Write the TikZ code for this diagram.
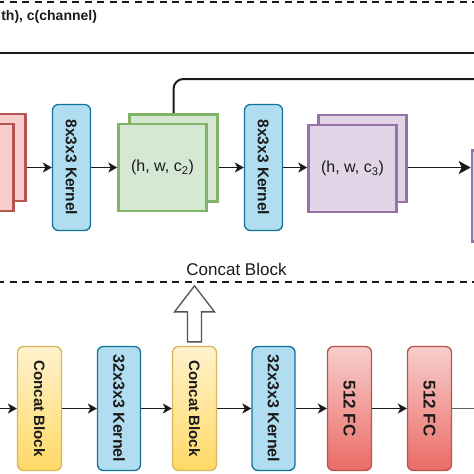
\documentclass[tikz,border=0pt]{standalone}
\usepackage{fontspec}
\setmainfont{Liberation Sans}
\usetikzlibrary{arrows.meta}
\definecolor{redL}{HTML}{F8CECC}
\definecolor{redD}{HTML}{B85450}
\definecolor{redM}{HTML}{EA6B66}
\definecolor{blueL}{HTML}{B1DDF0}
\definecolor{blueD}{HTML}{10739E}
\definecolor{greenL}{HTML}{D5E8D4}
\definecolor{greenD}{HTML}{82B366}
\definecolor{purpL}{HTML}{E1D5E7}
\definecolor{purpD}{HTML}{9673A6}
\definecolor{yelL}{HTML}{FFF2CC}
\definecolor{yelM}{HTML}{FFD966}
\definecolor{yelD}{HTML}{D6B656}
\definecolor{txt}{HTML}{1A1A1A}
\tikzset{
  sq/.style={draw, line width=2.6pt, minimum width=88pt, minimum height=87pt, inner sep=0pt,
    font=\fontsize{16}{19}\selectfont, text=txt},
  kern/.style={draw=blueD, fill=blueL, line width=1.3pt, rounded corners=6pt,
    minimum width=38pt, minimum height=126pt, inner sep=0pt,
    font=\bfseries\fontsize{15.5}{18}\selectfont, text=txt},
  blk/.style={line width=1.3pt, rounded corners=6pt, shading angle=0,
    minimum width=44pt, minimum height=124pt, inner sep=0pt,
    font=\bfseries\fontsize{15}{18}\selectfont, text=txt},
  conc/.style={blk, draw=yelD, top color=yelL, bottom color=yelM},
  fcb/.style={blk, draw=redD, top color=redL, bottom color=redM, font=\bfseries\fontsize{17}{20}\selectfont},
  arr/.style={line width=1.5pt, draw=txt, -{Stealth[length=9pt,width=10pt,inset=2.5pt]}},
  bigarr/.style={line width=1.6pt, draw=txt, -{Stealth[length=12pt,width=13pt,inset=3pt]}},
  plain/.style={line width=1.5pt, draw=txt},
  sep/.style={line width=2pt, draw=txt},
  dsh/.style={line width=2.5pt, draw=txt, dash pattern=on 7pt off 5.5pt},
}
\begin{document}
\begin{tikzpicture}[x=1pt,y=-1pt]
\useasboundingbox (0,0) rectangle (474,474);
\clip (0,0) rectangle (474,474);

% separator lines
\draw[dsh] (-3,2) -- (480,2);
\node[anchor=east, font=\bfseries\fontsize{14}{16}\selectfont, text=txt] (ttl) at (100.5,16.5) {th), c(channel)};
\draw[sep] (-5,53) -- (480,53);

% top row
\node[sq, draw=redD, fill=redL] (r2) at (-18.5,157.5) {};
\node[sq, draw=redD, fill=redL] (r1) at (-30.5,167.5) {(h, w, c\textsubscript{1})};
\node[kern] (k1) at (71.5,167.5) {\rotatebox{-90}{8x3x3 Kernel}};
\node[sq, draw=greenD, fill=greenL] (g2) at (173.5,158) {};
\node[sq, draw=greenD, fill=greenL] (g1) at (162.5,167.5) {(h, w, c\textsubscript{2})};
\node[kern] (k2) at (263.5,167.5) {\rotatebox{-90}{8x3x3 Kernel}};
\node[sq, draw=purpD, fill=purpL] (p2) at (362.5,158.5) {};
\node[sq, draw=purpD, fill=purpL] (p1) at (352.5,168.5) {(h, w, c\textsubscript{3})};
\node[draw=purpD, fill=purpL, line width=2.6pt, minimum width=60pt, minimum height=91pt, inner sep=0pt] (tp) at (502,196) {};

\draw[arr] (r2.east |- k1.west) -- (k1.west);
\draw[arr] (k1.east) -- (g1.west |- k1.east);
\draw[arr] (g2.east |- k2.west) -- (k2.west);
\draw[arr] (k2.east) -- (p1.west |- k2.east);
\draw[bigarr] (p2.east |- k2.east) -- (tp.west |- k2.east);

\coordinate (skipend) at (480,79);
\draw[plain, line width=2pt, rounded corners=10pt] (g2.north) |- (skipend);

% concat block separator
\draw[dsh] (-3,282) -- (480,282);
\node[font=\fontsize{17}{20}\selectfont, text=txt] (cbl) at (236.5,269.5) {Concat Block};

% bottom row
\node[conc] (c1) at (39.5,408.5) {\rotatebox{-90}{Concat Block}};
\node[kern, minimum width=43pt, minimum height=124pt, font=\bfseries\fontsize{16}{19}\selectfont] (k3) at (119,408.5) {\rotatebox{-90}{32x3x3 Kernel}};
\node[conc] (c2) at (194.5,408.5) {\rotatebox{-90}{Concat Block}};
\node[kern, minimum width=43pt, minimum height=124pt, font=\bfseries\fontsize{16}{19}\selectfont] (k4) at (273.5,408.5) {\rotatebox{-90}{32x3x3 Kernel}};
\node[fcb] (f1) at (349.5,408.5) {\rotatebox{-90}{512 FC}};
\node[fcb] (f2) at (429.5,408.5) {\rotatebox{-90}{512 FC}};

\coordinate (inL) at (-5,408.5);
\coordinate (outR) at (480,408.5);
\draw[arr] (inL) -- (c1.west);
\draw[arr] (c1.east) -- (k3.west);
\draw[arr] (k3.east) -- (c2.west);
\draw[arr] (c2.east) -- (k4.west);
\draw[arr] (k4.east) -- (f1.west);
\draw[arr] (f1.east) -- (f2.west);
\draw[plain, draw=txt!70] (f2.east) -- (outR);

% hollow up arrow from concat block to separator
\draw[line width=1.3pt, draw=txt!75, fill=white, shift={(c2.north)}]
  (-7,-4) -- (-7,-34) -- (-20,-34) -- (0,-60) -- (20,-34) -- (7,-34) -- (7,-4) -- cycle;
\end{tikzpicture}
\end{document}
